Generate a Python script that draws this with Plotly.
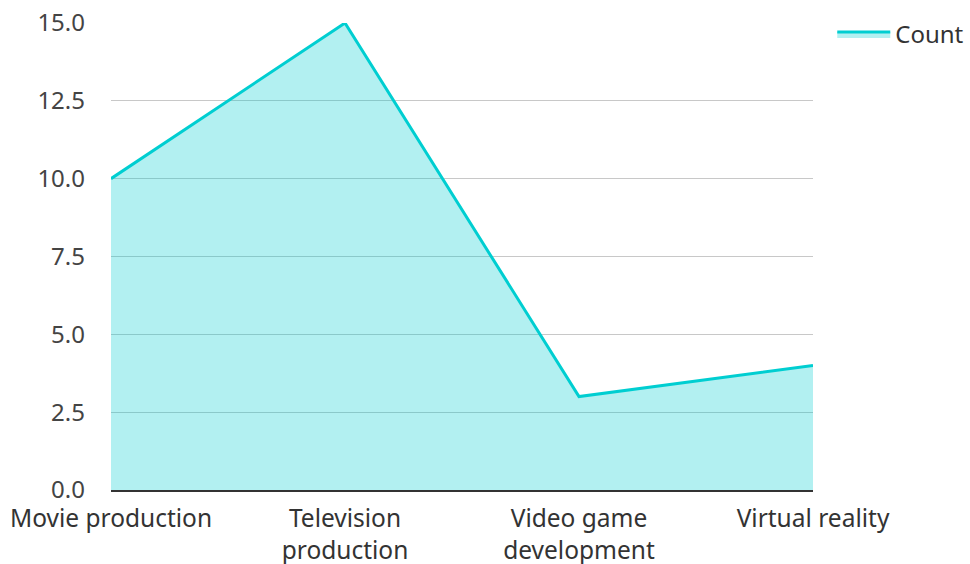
import plotly.graph_objects as go

categories = ["Movie production", "Television<br>production", "Video game<br>development", "Virtual reality"]
counts = [10, 15, 3, 4]
series_name = "Count"
y_ticks = [0, 2.5, 5, 7.5, 10, 12.5, 15]

fig = go.Figure()
fig.add_trace(go.Scatter(
    x=categories, y=counts, name=series_name, mode="lines",
    line=dict(color="#00CED1", width=3),
    fill="tozeroy", fillcolor="rgba(0,206,209,0.3)",
))

fig.update_layout(
    width=970, height=564,
    margin=dict(l=111, r=157, t=23, b=74, autoexpand=False),
    paper_bgcolor="white", plot_bgcolor="white",
    font=dict(family="Noto Sans", size=24, color="#333333"),
    showlegend=True,
    legend=dict(xref="container", yref="container", x=0.858, y=0.979,
                xanchor="left", yanchor="top", itemwidth=53,
                font=dict(size=24, color="#333333"), bgcolor="rgba(0,0,0,0)"),
    xaxis=dict(range=[0, 3], showgrid=False, showline=True, linecolor="#333333",
               linewidth=2, ticks="", automargin=False, ticklabelstandoff=6,
               tickfont=dict(size=24.5, color="#333333")),
    yaxis=dict(range=[0, 15], tickvals=y_ticks, tickformat=".1f", showgrid=True,
               gridcolor="#c8c8c8", gridwidth=1, zeroline=False, showline=False,
               ticks="", automargin=False, ticklabelstandoff=25,
               tickfont=dict(size=24, color="#444444")),
)

fig.write_html("out.html", config={"displayModeBar": False},
               post_script="document.body.style.margin='0';")
